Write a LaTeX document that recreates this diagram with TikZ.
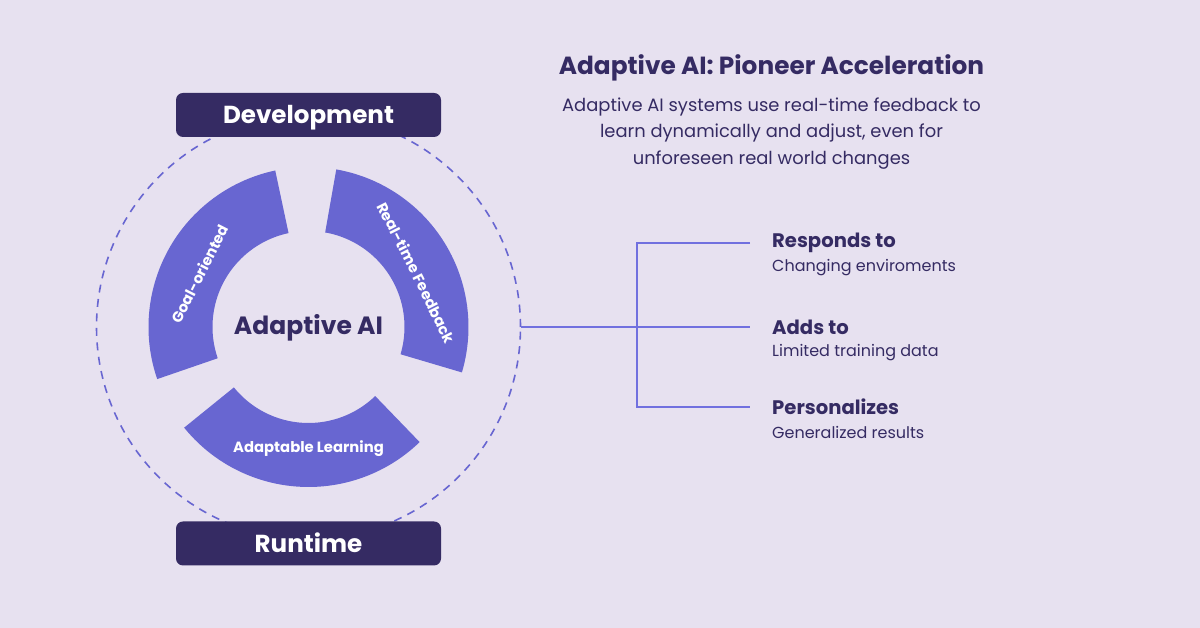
\documentclass[tikz,border=0pt]{standalone}
\usepackage{fontspec}
\setmainfont{Poppins}
\usepackage{xcolor}
\usepackage{tikz}
\usetikzlibrary{
    arrows.meta,
    positioning,
    calc
}

\definecolor{canvas}{HTML}{E7E1F0}
\definecolor{ink}{HTML}{352B63}
\definecolor{segfill}{HTML}{6866D1}
\definecolor{linkline}{HTML}{7170DF}

\begin{document}
\begin{tikzpicture}[
    x=1pt,
    y=1pt,
    seg/.style={
        fill=segfill
    },
    seglabel/.style={
        text=white,
        font=\bfseries\fontsize{14.8}{17}\selectfont
    },
    stage/.style={
        fill=ink,
        text=white,
        rounded corners=7pt,
        minimum width=265pt,
        minimum height=44pt,
        text height=17.5pt,
        text depth=0pt,
        font=\bfseries\fontsize{24.6}{28}\selectfont
    },
    head/.style={
        anchor=west,
        text=ink,
        inner sep=0pt,
        font=\bfseries\fontsize{19.6}{22}\selectfont
    },
    sub/.style={
        anchor=west,
        text=ink,
        inner sep=0pt,
        font=\fontsize{16}{18}\selectfont
    },
    link/.style={
        draw=linkline,
        line width=1.6pt
    }
]

% ============================================================
% CANVAS
% ============================================================

\fill[canvas] (0,0) rectangle (1200,628);
\useasboundingbox (0,0) rectangle (1200,628);

\coordinate (ring) at (308.5,301);

% ============================================================
% DASHED ORBIT AND STAGES
% ============================================================

\node[
    circle,
    draw=segfill,
    line width=1.6pt,
    dash pattern=on 8pt off 6.5pt,
    minimum size=424pt,
    inner sep=0pt
]
    (orbit) at (ring) {};

\node[stage]
    (dev) at (308.5,513)
    {Development};

\node[stage]
    (run) at (308.5,84.5)
    {Runtime};

% ============================================================
% RING SEGMENTS
% ============================================================

% Goal-oriented
\fill[seg]
    ([shift={(102:160)}]ring)
    arc[start angle=102, end angle=199, radius=160]
    -- ([shift={(199:96)}]ring)
    arc[start angle=199, end angle=102, radius=96]
    -- cycle;

% Real-time Feedback
\fill[seg]
    ([shift={(-16.5:160)}]ring)
    arc[start angle=-16.5, end angle=80, radius=160]
    -- ([shift={(80:96)}]ring)
    arc[start angle=80, end angle=-16.5, radius=96]
    -- cycle;

% Adaptable Learning
\fill[seg]
    ([shift={(219:160)}]ring)
    arc[start angle=219, end angle=314, radius=160]
    -- ([shift={(314:96)}]ring)
    arc[start angle=314, end angle=219, radius=96]
    -- cycle;

\node[seglabel, rotate=63]
    (goal) at ([shift={(154:121)}]ring)
    {Goal-oriented};

\node[seglabel, rotate=-63.3]
    (feed) at ([shift={(26.7:121)}]ring)
    {Real-time Feedback};

\node[seglabel]
    (learn) at ([shift={(270:122)}]ring)
    {Adaptable Learning};

\node[
    text=ink,
    font=\bfseries\fontsize{25}{30}\selectfont
]
    (core) at ([yshift=-1pt]ring)
    {Adaptive AI};

% ============================================================
% TITLE AND DESCRIPTION
% ============================================================

\node[
    text=ink,
    font=\bfseries\fontsize{24.8}{28}\selectfont
]
    (title) at (771.5,560)
    {Adaptive AI: Pioneer Acceleration};

\node[
    text=ink,
    align=center,
    font=\fontsize{17.9}{26.5}\selectfont
]
    (desc) at (771.5,494.5)
{
Adaptive AI systems use real-time feedback to\\
learn dynamically and adjust, even for\\
unforeseen real world changes
};

% ============================================================
% PROPERTIES
% ============================================================

\node[head] (resp) at (772,385) {Responds to};
\node[sub] (respsub) at (772,360) {Changing enviroments};

\node[head] (adds) at (772,301) {Adds to};
\node[sub] (addssub) at (772,275) {Limited training data};

\node[head] (pers) at (772,221) {Personalizes};
\node[sub] (perssub) at (772,196) {Generalized results};

\coordinate (fork) at (637,301);

\draw[link]
    (orbit.east) -- ([xshift=-22pt]adds.west);

\draw[link]
    ([xshift=-22pt]resp.west) -| (fork)
    |- ([xshift=-22pt]pers.west);

\end{tikzpicture}
\end{document}
